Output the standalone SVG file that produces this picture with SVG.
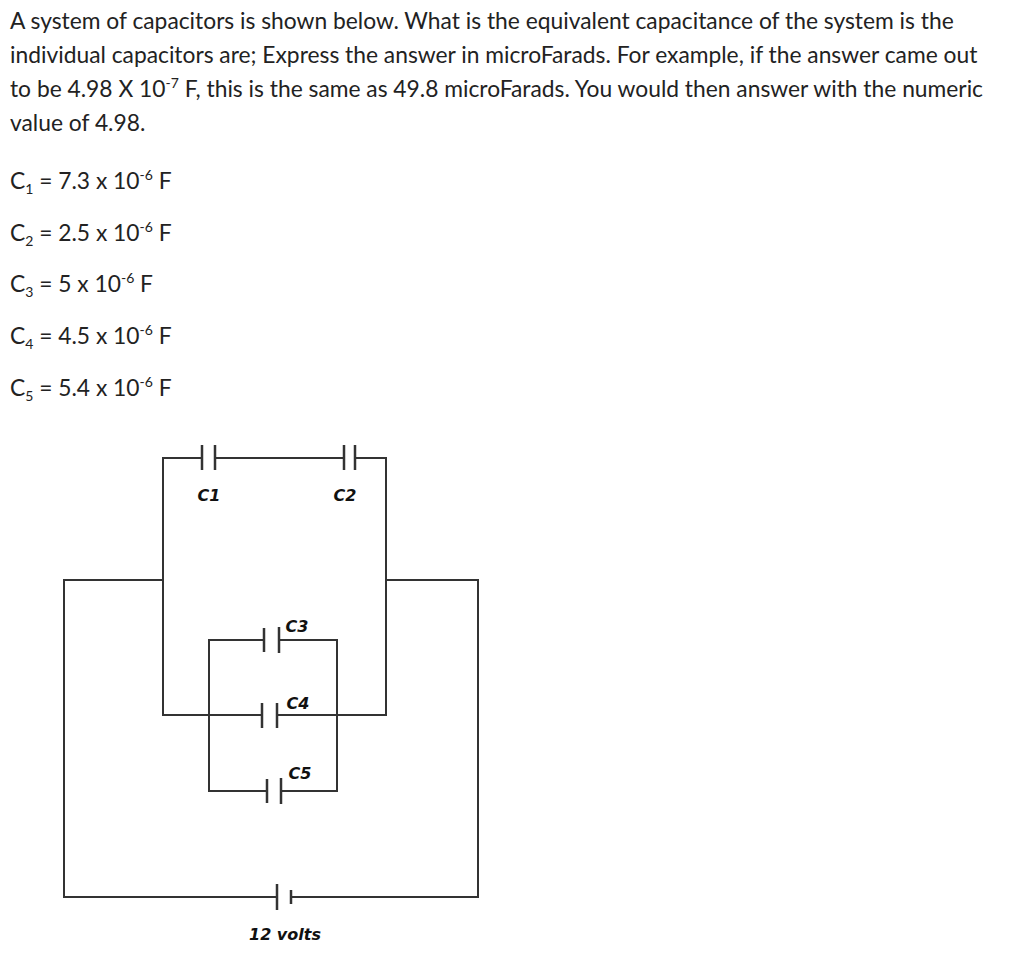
<svg xmlns="http://www.w3.org/2000/svg" width="1024" height="959" viewBox="0 0 1024 959">
<style>
.t{font-family:Lato,"Open Sans",sans-serif;font-size:22.8px;fill:#222}
.s{font-size:14px}
.w{stroke:#333;stroke-width:2;fill:none}
.p{stroke:#333;stroke-width:2.5}
.l{font-family:"DejaVu Sans",Arial,sans-serif;font-weight:bold;font-style:italic;font-size:16px;fill:#111;text-anchor:middle}
</style>
<rect width="1024" height="959" fill="#fff"/>
<text class="t" x="10" y="29">A system of capacitors is shown below. What is the equivalent capacitance of the system is the</text>
<text class="t" x="10" y="63">individual capacitors are; Express the answer in microFarads. For example, if the answer came out</text>
<text class="t" x="10" y="97">to be 4.98 X 10<tspan class="s" dy="-9">-7</tspan><tspan dy="9"> F, this is the same as 49.8 microFarads. You would then answer with the numeric</tspan></text>
<text class="t" x="10" y="131">value of 4.98.</text>
<text class="t" x="10" y="189">C<tspan class="s" dy="5">1</tspan><tspan dy="-5"> = 7.3 x 10</tspan><tspan class="s" dy="-9">-6</tspan><tspan dy="9"> F</tspan></text>
<text class="t" x="10" y="241">C<tspan class="s" dy="5">2</tspan><tspan dy="-5"> = 2.5 x 10</tspan><tspan class="s" dy="-9">-6</tspan><tspan dy="9"> F</tspan></text>
<text class="t" x="10" y="292">C<tspan class="s" dy="5">3</tspan><tspan dy="-5"> = 5 x 10</tspan><tspan class="s" dy="-9">-6</tspan><tspan dy="9"> F</tspan></text>
<text class="t" x="10" y="344">C<tspan class="s" dy="5">4</tspan><tspan dy="-5"> = 4.5 x 10</tspan><tspan class="s" dy="-9">-6</tspan><tspan dy="9"> F</tspan></text>
<text class="t" x="10" y="396">C<tspan class="s" dy="5">5</tspan><tspan dy="-5"> = 5.4 x 10</tspan><tspan class="s" dy="-9">-6</tspan><tspan dy="9"> F</tspan></text>
<g id="connectors">
<path class="w" d="M202 458H163V715H262M277 715H386V458H355M344 458H215"/>
<path class="w" d="M163 580H64V897H277M291 897H478V580H386"/>
<path class="w" d="M264 640H209V791H267M281 791H337V640H279"/>
</g>
<g id="C1"><line class="p" x1="202" y1="445" x2="202" y2="470"/><line class="p" x1="215" y1="445" x2="215" y2="470"/><text class="l" x="209" y="501">C1</text></g>
<g id="C2"><line class="p" x1="344" y1="445" x2="344" y2="470"/><line class="p" x1="355" y1="445" x2="355" y2="470"/><text class="l" x="345" y="501">C2</text></g>
<g id="C3"><line class="p" x1="264" y1="628" x2="264" y2="652"/><line class="p" x1="279" y1="627" x2="279" y2="653"/><text class="l" x="297" y="632">C3</text></g>
<g id="C4"><line class="p" x1="262" y1="703" x2="262" y2="728"/><line class="p" x1="277" y1="703" x2="277" y2="728"/><text class="l" x="298" y="709">C4</text></g>
<g id="C5"><line class="p" x1="267" y1="779" x2="267" y2="803"/><line class="p" x1="281" y1="778" x2="281" y2="804"/><text class="l" x="300" y="779">C5</text></g>
<g id="battery"><line class="p" x1="277" y1="884" x2="277" y2="910"/><line class="p" x1="291" y1="890" x2="291" y2="904"/><text class="l" x="285" y="940">12 volts</text></g>
</svg>
